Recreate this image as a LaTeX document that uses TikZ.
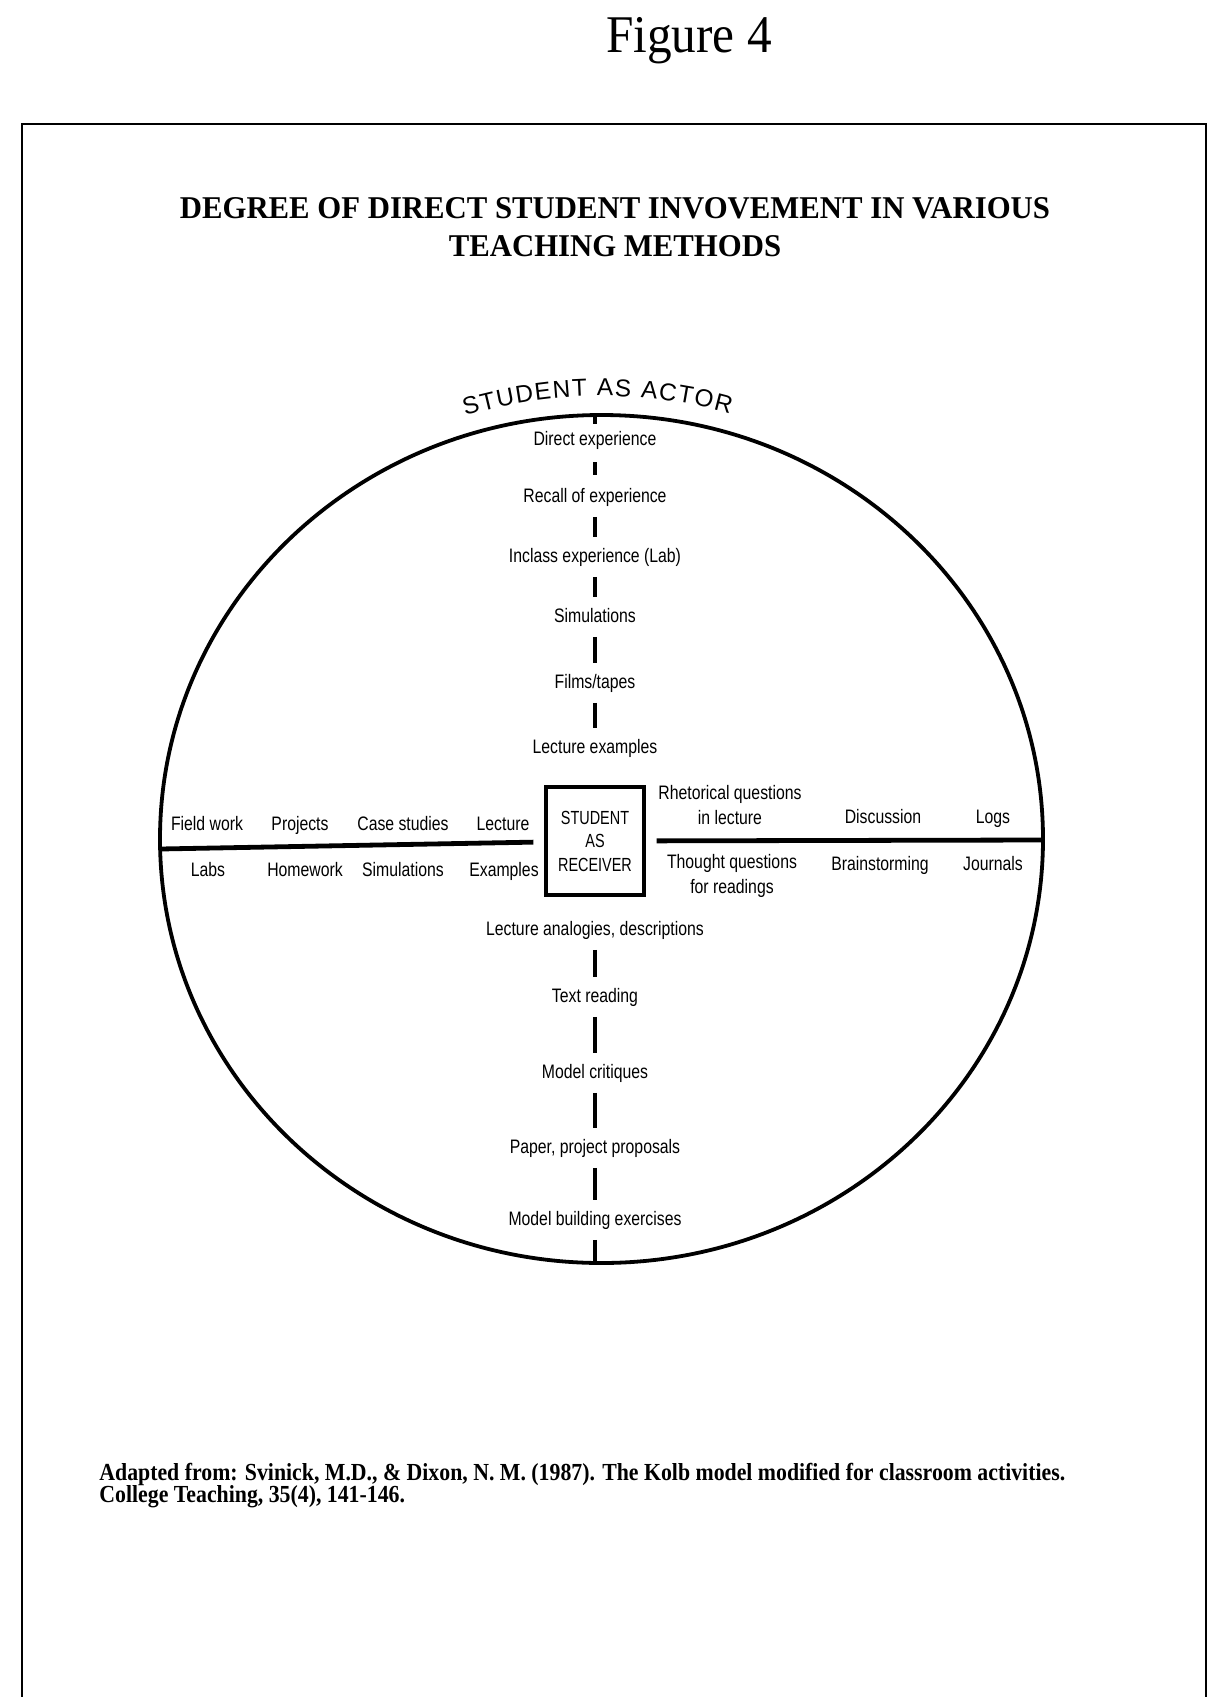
\documentclass[tikz,border=0pt]{standalone}
\usepackage{fontspec}
\setmainfont{Liberation Serif}
\newfontface\figfont[FakeStretch=0.93]{Liberation Serif}
\newfontface\headfont[FakeStretch=0.97]{Liberation Serif Bold}
\newfontface\citefont[FakeStretch=0.89]{Liberation Serif Bold}
\newfontfamily\labelfont[FakeStretch=0.81]{Liberation Sans}
\newfontface\boxfont[FakeStretch=0.76]{Liberation Sans}
\newfontface\actorfont{Liberation Sans}
\usetikzlibrary{decorations.text}
\tikzset{
  item/.style={font=\labelfont\fontsize{9.75}{11.7}\selectfont, inner sep=0pt, text height=7pt, text depth=2pt},
  pair/.style={font=\labelfont\fontsize{9.75}{12.5}\selectfont, inner sep=0pt, align=center},
  link/.style={line width=1.6pt, shorten <=5.25pt, shorten >=5.25pt},
  rim/.style={line width=1.9pt},
  crossline/.style={line width=2.4pt},
  receiver/.style={draw, line width=1.7pt, minimum width=49pt, minimum height=54pt, inner sep=0pt, align=center,
    font=\boxfont\fontsize{9.5}{11.75}\selectfont},
  cite/.style={font=\citefont\fontsize{12.25}{14}\selectfont, inner sep=0pt, anchor=base west},
  head/.style={font=\headfont\fontsize{15.85}{19}\selectfont, inner sep=0pt, anchor=base}
}
\begin{document}
\begin{tikzpicture}[x=0.5pt, y=-0.5pt]
      \useasboundingbox (0,0) rectangle (1210,1697);
      \node[font=\figfont\fontsize{26.5}{30}\selectfont, inner sep=0pt, anchor=base] (fig) at (689,52) {Figure 4};
      \draw[line width=1pt] (22,1697) -- (22,124) -- (1206,124) -- (1206,1697);
      \node[head] (title) at (615,218) {DEGREE OF DIRECT STUDENT INVOVEMENT IN VARIOUS};
      \node[head] (title2) at (615,256) {TEACHING METHODS};

      \draw[rim] (601.5,839) ellipse [x radius=441.5, y radius=424];
      \path[decorate, decoration={text along path, text align=fit to path,
        text={|\actorfont\fontsize{12.2}{15}\selectfont|STUDENT AS ACTOR}}]
        (601.5,839) ++(-107.2:461 and 443) arc [start angle=-107.2, end angle=-73.8, x radius=461, y radius=443];

      \coordinate (acttop) at (595,413);
      \coordinate (actbot) at (595,1263);
      \node[item] (direct) at (595,440) {Direct experience};
      \node[item] (recall) at (595,497) {Recall of experience};
      \node[item] (inclass) at (595,557) {Inclass experience (Lab)};
      \node[item] (simup) at (595,617) {Simulations};
      \node[item] (films) at (595,683) {Films/tapes};
      \node[item] (lectex) at (595,748) {Lecture examples};
      \draw[link, shorten <=0pt, shorten >=3.5pt] (acttop) -- (direct);
      \draw[link, shorten <=6.5pt, shorten >=6.5pt] (direct) -- (recall);
      \draw[link] (recall) -- (inclass);
      \draw[link] (inclass) -- (simup);
      \draw[link] (simup) -- (films);
      \draw[link] (films) -- (lectex);

      \node[receiver] (recv) at (595,841) {STUDENT\\AS\\RECEIVER};
      \coordinate (rimwest) at (160,849);
      \coordinate (rimeast) at (1043,840);
      \draw[crossline, shorten >=5.5pt] (rimwest) -- (recv);
      \draw[crossline, shorten <=5.5pt] (recv) -- (rimeast);

      \node[item] (fieldwork) at (207,825) {Field work};
      \node[item] (projects) at (300,825) {Projects};
      \node[item] (cases) at (403,825) {Case studies};
      \node[item] (lecture) at (503,825) {Lecture};
      \node[item] (labs) at (208,871) {Labs};
      \node[item] (homework) at (305,871) {Homework};
      \node[item] (simlow) at (403,871) {Simulations};
      \node[item] (examples) at (504,871) {Examples};
      \node[pair] (rhetoric) at (730,805) {Rhetorical questions\\in lecture};
      \node[item] (discuss) at (883,818) {Discussion};
      \node[item] (logs) at (993,818) {Logs};
      \node[pair] (thought) at (732,876) {Thought questions\\for readings};
      \node[item] (brainstorm) at (880,865) {Brainstorming};
      \node[item] (journals) at (993,865) {Journals};

      \node[item] (analog) at (595,930) {Lecture analogies, descriptions};
      \node[item] (textread) at (595,997) {Text reading};
      \node[item] (critique) at (595,1073) {Model critiques};
      \node[item] (proposal) at (595,1148) {Paper, project proposals};
      \node[item] (building) at (595,1220) {Model building exercises};
      \draw[link] (analog) -- (textread);
      \draw[link] (textread) -- (critique);
      \draw[link] (critique) -- (proposal);
      \draw[link] (proposal) -- (building);
      \draw[link, shorten >=0pt] (building) -- (actbot);

      \node[cite] (cite) at (99,1480) {Adapted from: Svinick, M.D., \& Dixon, N. M. (1987). The Kolb model modified for classroom activities.};
      \node[cite] (cite2) at (99,1502) {College Teaching, 35(4), 141-146.};
    \end{tikzpicture}
\end{document}
